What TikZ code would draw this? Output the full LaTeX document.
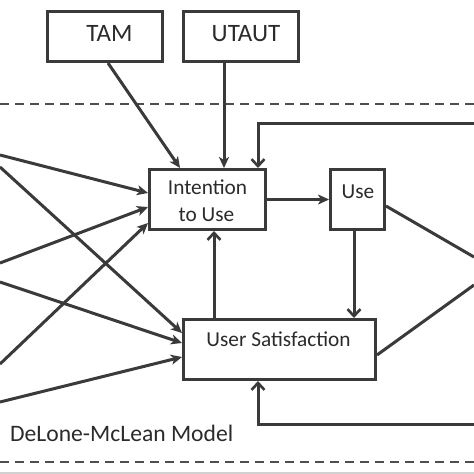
\documentclass[tikz,border=0pt]{standalone}
\usepackage{fontspec}
\setmainfont{Carlito}
\usetikzlibrary{arrows.meta}
\definecolor{ink}{HTML}{3A3A3A}
\definecolor{txt}{HTML}{2B2B2B}
\tikzset{
  box/.style={draw=ink, line width=3pt, rectangle, inner sep=0pt, fill=white},
  lbl/.style={text=txt, inner sep=0pt, anchor=base},
  conn/.style={draw=ink, line width=3pt},
  arr/.style={conn, -{Stealth[length=11pt,width=10pt,inset=3pt]}},
  barb/.style={conn, -{Straight Barb[length=7pt,width=13pt,line width=2.6pt]}},
  sep/.style={draw=ink!90, line width=2pt, dash pattern=on 9pt off 6pt},
}
\begin{document}
\begin{tikzpicture}[x=1pt,y=-1pt]
\useasboundingbox (0,0) rectangle (474,474);
\fill[white] (0,0) rectangle (474,474);
\fill[black!18] (0,472) rectangle (474,474);
% separators
\draw[sep] (0,104) -- (474,104);
\draw[sep] (0,462) -- (474,462);
% boxes
\node[box, minimum width=115pt, minimum height=50pt] (tam) at (105,36.5) {};
\node[box, minimum width=115pt, minimum height=50pt] (utaut) at (241,36.5) {};
\node[box, minimum width=116pt, minimum height=60pt] (int) at (207.5,199.5) {};
\node[box, minimum width=54pt, minimum height=60pt] (use) at (357.5,199.5) {};
\node[box, minimum width=192pt, minimum height=60pt] (us) at (279.5,349.5) {};
% labels
\node[lbl, font=\fontsize{25}{29}\selectfont] (tamT) at (109.5,41.5) {TAM};
\node[lbl, font=\fontsize{25}{29}\selectfont] (utautT) at (246,41) {UTAUT};
\node[lbl, font=\fontsize{21.3}{25}\selectfont] (intT1) at (207.5,194.3) {Intention};
\node[lbl, font=\fontsize{21.3}{25}\selectfont] (intT2) at (206.5,221) {to Use};
\node[lbl, font=\fontsize{21.3}{25}\selectfont] (useT) at (358,198.3) {Use};
\node[lbl, font=\fontsize{21.3}{25}\selectfont] (usT) at (278.5,346.7) {User Satisfaction};
\node[lbl, anchor=base west, font=\fontsize{23.6}{28}\selectfont] (dmT) at (10,441.7) {DeLone-McLean Model};
% off-picture ends
\coordinate (l1) at (0,155);
\coordinate (l2) at (0,167);
\coordinate (l3) at (0,263);
\coordinate (l4) at (0,282);
\coordinate (l5) at (0,364);
\coordinate (l6) at (0,402);
\coordinate (r1) at (474,257);
\coordinate (r2) at (474,285);
\coordinate (fbT) at (474,123);
\coordinate (fbB) at (474,424);
% top connectors
\draw[arr] ([xshift=3pt]tam.south) -- ([xshift=-27.5pt]int.north);
\draw[arr] ([xshift=-17pt]utaut.south) -- ([xshift=16.5pt]int.north);
% left connectors
\draw[arr] (l1) -- ([yshift=6.5pt]int.west);
\draw[arr] (l2) -- ([yshift=16.5pt]us.west);
\draw[arr] (l3) -- ([yshift=-7.5pt]int.west);
\draw[arr] (l4) -- ([yshift=6.5pt]us.west);
\draw[arr] (l5) -- ([yshift=-23.5pt]int.west);
\draw[arr] (l6) -- ([yshift=-7.5pt]us.west);
% inner connectors
\draw[arr] (int.east) -- (use.west);
\draw[barb] ([xshift=-65.5pt]us.north) -- ([xshift=6.5pt]int.south);
\draw[barb] ([xshift=-3.5pt]use.south) -- ([xshift=74.5pt]us.north);
% right connectors
\draw[conn] ([yshift=-6.5pt]use.east) -- (r1);
\draw[conn] ([yshift=-5.5pt]us.east) -- (r2);
% feedback loops
\draw[barb] (fbT) -| ([xshift=50.5pt]int.north);
\draw[barb] (fbB) -| ([xshift=-21.5pt]us.south);
\end{tikzpicture}
\end{document}
